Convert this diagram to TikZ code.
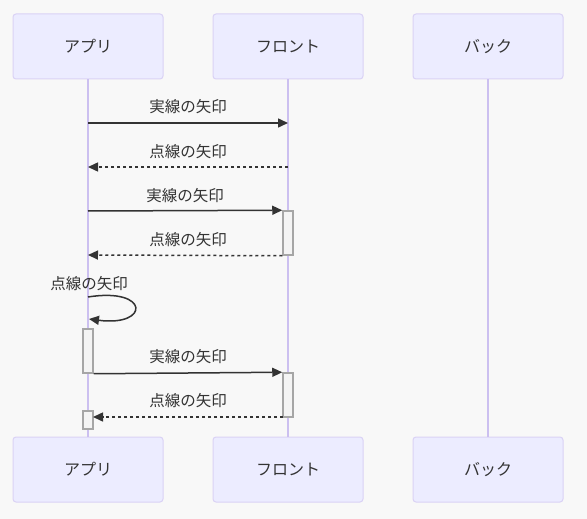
\documentclass[tikz,border=0pt]{standalone}
\usepackage{fontspec}
\setmainfont{Noto Sans CJK JP}
\usetikzlibrary{arrows.meta}
\definecolor{bg}{RGB}{248,248,248}
\definecolor{actorfill}{RGB}{236,236,255}
\definecolor{actorborder}{RGB}{218,210,245}
\definecolor{lifec}{RGB}{204,192,240}
\definecolor{textc}{RGB}{51,51,51}
\definecolor{linec}{RGB}{51,51,51}
\definecolor{actfill}{RGB}{244,244,244}
\definecolor{actborder}{RGB}{166,166,166}
\tikzset{
  actor/.style={draw=actorborder, fill=actorfill, line width=1pt, rounded corners=3pt,
    minimum width=150pt, minimum height=65pt, inner sep=0pt,
    font=\fontsize{16}{19}\selectfont, text=textc},
  life/.style={draw=lifec, line width=1.2pt},
  actbox/.style={draw=actborder, fill=actfill, line width=1.5pt, minimum width=10pt, inner sep=0pt},
  solidmsg/.style={draw=linec, line width=1.5pt, -{Triangle[length=10pt,width=9pt]}},
  dashmsg/.style={draw=linec, line width=1.5pt, dash pattern=on 3pt off 3pt, -{Triangle[length=10pt,width=9pt]}},
  lbl/.style={font=\fontsize{15.5}{18}\selectfont, text=textc, inner sep=0pt}
}
\begin{document}
\begin{tikzpicture}[x=1pt,y=-1pt]
\fill[bg] (0,0) rectangle (587,519);
\useasboundingbox (0,0) rectangle (587,519);
% actors
\node[actor] (a1) at (88,46.5) {アプリ};
\node[actor] (f1) at (288,46.5) {フロント};
\node[actor] (b1) at (488,46.5) {バック};
\node[actor] (a2) at (88,469.5) {アプリ};
\node[actor] (f2) at (288,469.5) {フロント};
\node[actor] (b2) at (488,469.5) {バック};
% lifelines
\draw[life] (a1.south) -- (a2.north);
\draw[life] (f1.south) -- (f2.north);
\draw[life] (b1.south) -- (b2.north);
% activation boxes
\node[actbox, minimum height=44pt] (fa1) at (288,233) {};
\node[actbox, minimum height=44pt] (aa1) at (88,351) {};
\node[actbox, minimum height=44pt] (fa2) at (288,395) {};
\node[actbox, minimum height=18pt] (aa2) at (88,420) {};
% message anchors
\coordinate (m1s) at (88,123);  \coordinate (m1e) at (288,123);
\coordinate (m2s) at (288,167); \coordinate (m2e) at (88,167);
\coordinate (m3s) at (88,211);
\coordinate (m4e) at (88,255);
\coordinate (m5s) at (88,297); \coordinate (m5e) at (89,319);
\coordinate (m7e) at (93,417);  \coordinate (m7s) at (283,417);
% messages
\draw[solidmsg] (m1s) -- (m1e);
\node[lbl] (l1) at (188,107) {実線の矢印};
\draw[dashmsg] (m2s) -- (m2e);
\node[lbl] (l2) at (188,152) {点線の矢印};
\draw[solidmsg] (m3s) -- (fa1.north west);
\node[lbl] (l3) at (185,196) {実線の矢印};
\draw[dashmsg] (fa1.south west) -- (m4e);
\node[lbl] (l4) at (188,240) {点線の矢印};
\draw[solidmsg] (m5s) .. controls (150,287) and (150,327) .. (m5e);
\node[lbl] (l5) at (89,284) {点線の矢印};
\draw[solidmsg] (aa1.south east) -- (fa2.north west);
\node[lbl] (l6) at (188,357) {実線の矢印};
\draw[dashmsg] (m7s) -- (m7e);
\node[lbl] (l7) at (188,401) {点線の矢印};
\end{tikzpicture}
\end{document}
